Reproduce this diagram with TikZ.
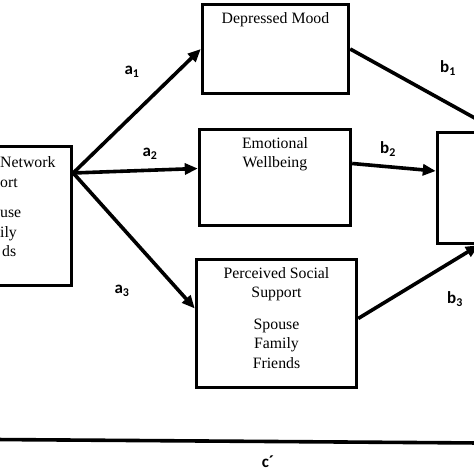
\documentclass[tikz,border=0pt]{standalone}
\usepackage{fontspec}
\setmainfont{Liberation Serif}
\newfontfamily\coeffont{Carlito}
\usetikzlibrary{arrows.meta,positioning}

\begin{document}
\begin{tikzpicture}[x=1pt,y=-1pt,
  box/.style={rectangle, draw, line width=3.4pt, inner sep=0pt},
  txt/.style={font=\fontsize{15.8}{19.5}\selectfont, align=center},
  edge/.style={-{Triangle[length=13pt,width=11pt]}, line width=3.6pt},
  plain/.style={line width=3.6pt},
  coef/.style={font=\coeffont\bfseries\fontsize{17}{20}\selectfont}
]
\useasboundingbox (0,0) rectangle (474,474);
\clip (0,0) rectangle (474,474);

% boxes
\node[box, minimum width=158pt, minimum height=139pt] (net) at (-7.5,216) {};
\node[txt, align=left, anchor=north west, inner sep=0pt] (nettxt) at (0,156.5)
  {Network\\ort\\[11pt]use\\ily\\\hspace*{2pt}ds};
\node[box, minimum width=146pt, minimum height=89pt,
  label={[txt, anchor=north, label distance=-6pt]north:Depressed Mood}] (dep) at (275.5,49) {};
\node[box, minimum width=151pt, minimum height=96pt,
  label={[txt, anchor=north, label distance=-6pt]north:Emotional\\Wellbeing}] (emo) at (275,177.5) {};
\node[box, minimum width=160pt, minimum height=128pt,
  label={[txt, anchor=north, label distance=-6pt]north:Perceived Social\\Support\\[12pt]Spouse\\Family\\Friends}] (pss) at (276.5,323.5) {};
\node[box, minimum width=121pt, minimum height=111pt] (outc) at (498,188) {};

% paths
\draw[edge] ([yshift=43pt]net.east) -- (dep.west);
\draw[edge] ([yshift=43pt]net.east) -- ([yshift=9pt]emo.west);
\draw[edge] ([yshift=43pt]net.east) -- ([yshift=15pt]pss.west);
\draw[edge] (dep.east) -- ([xshift=62pt]outc.north west);
\draw[edge] ([yshift=14pt]emo.east) -- ([yshift=17pt]outc.west);
\draw[edge] ([yshift=5pt]pss.east) -- ([xshift=43pt]outc.south west);

% direct effect
\coordinate (cl) at (-5,439.5);
\coordinate (cr) at (480,443);
\draw[plain] (cl) -- (cr);

% coefficients
\node[coef] (la1) at (132,72) {a\textsubscript{1}};
\node[coef] (la2) at (150,154) {a\textsubscript{2}};
\node[coef] (la3) at (122,291) {a\textsubscript{3}};
\node[coef] (lb1) at (448,68) {b\textsubscript{1}};
\node[coef] (lb2) at (388,149) {b\textsubscript{2}};
\node[coef] (lb3) at (455,299) {b\textsubscript{3}};
\node[coef] (lc) at (268,462) {c´};
\end{tikzpicture}
\end{document}
